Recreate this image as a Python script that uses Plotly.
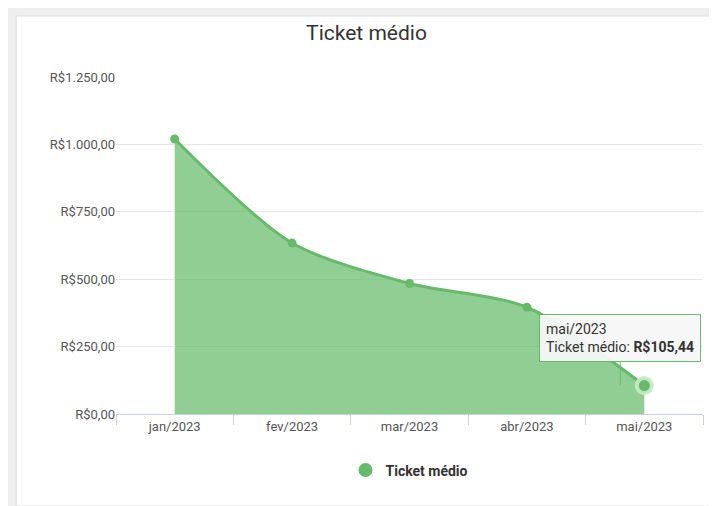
import plotly.graph_objects as go

months = ["jan/2023", "fev/2023", "mar/2023", "abr/2023", "mai/2023"]
ticket = [1020.0, 634.0, 484.0, 396.0, 105.44]
y_ticks = [0, 250, 500, 750, 1000, 1250]
series_name = "Ticket médio"

green = "#66bb6a"


def brl(v):
    s = f"{v:,.2f}".replace(",", "X").replace(".", ",").replace("X", ".")
    return "R&#36;" + s


xs = list(range(len(months)))

fig = go.Figure()
fig.add_trace(go.Scatter(
    x=xs, y=ticket, name=series_name, mode="lines+markers", showlegend=False,
    line=dict(color=green, width=3, shape="spline", smoothing=0.8),
    marker=dict(size=9, color=green),
    fill="tozeroy", fillcolor="rgba(102,187,106,0.72)",
))
# highlighted last point
fig.add_trace(go.Scatter(
    x=[xs[-1]], y=[ticket[-1]], mode="markers", showlegend=False,
    marker=dict(size=15, color=green, line=dict(color="rgba(200,235,200,0.9)", width=4)),
    hoverinfo="skip",
))
# legend entry (marker only)
fig.add_trace(go.Scatter(
    x=[None], y=[None], mode="markers", name=series_name,
    marker=dict(size=14, color=green),
))

fig.add_annotation(
    x=xs[-1], y=ticket[-1], ax=0, ay=-48,
    text=f"{months[-1]}<br>{series_name}: <b>{brl(ticket[-1])}</b>",
    showarrow=True, arrowcolor="rgba(102,187,106,0.9)", arrowwidth=1, arrowhead=0,
    bgcolor="rgba(245,247,245,0.95)", bordercolor=green, borderwidth=1, borderpad=6,
    align="left", font=dict(size=14, color="#333", family="Roboto"), xshift=-24,
)

fig.update_layout(
    width=717, height=506,
    margin=dict(l=108, r=22, t=69, b=100),
    paper_bgcolor="#eeeeee", plot_bgcolor="white",
    font=dict(family="Roboto", color="#555", size=13),
    title=dict(text="Ticket médio", x=0.5, y=0.965, xanchor="center", yanchor="top",
               font=dict(size=21, color="#333")),
    showlegend=True,
    legend=dict(orientation="h", x=0.5, xanchor="center", y=-0.12, yanchor="top",
                bgcolor="rgba(0,0,0,0)",
                font=dict(size=14, color="#333", weight="bold")),
    shapes=[dict(type="rect", xref="paper", yref="paper", x0=-0.170, x1=1.022,
                 y0=-0.273, y1=1.181, fillcolor="white",
                 line=dict(color="#dddddd", width=1), layer="below")],
)
fig.update_xaxes(range=[-0.5, len(months) - 0.5], tickvals=xs, ticktext=months,
                 showgrid=False, showline=True, linecolor="#c8cfe0", linewidth=1,
                 ticks="", tickfont=dict(size=13, color="#555"), fixedrange=True,
                 minor=dict(tickvals=[i - 0.5 for i in range(len(months) + 1)],
                            ticks="outside", ticklen=10, tickcolor="#c8cfe0", showgrid=False))
fig.update_yaxes(range=[0, 1250], tickvals=y_ticks, ticktext=[brl(v) for v in y_ticks],
                 gridcolor="#e6e6e6", zeroline=False, showline=False,
                 tickfont=dict(size=13, color="#555"), ticksuffix="  ")

fig.write_html("out.html")
